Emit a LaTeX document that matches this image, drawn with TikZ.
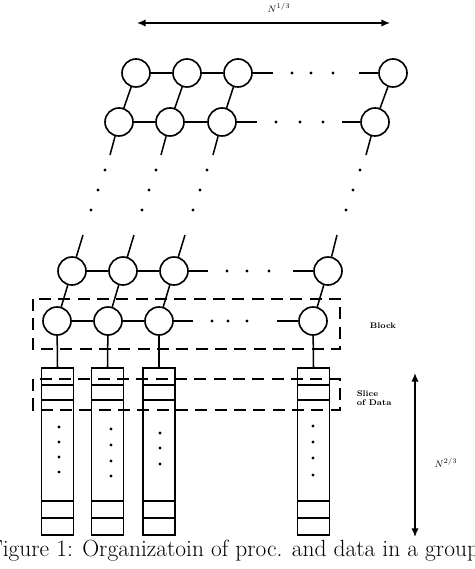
\documentclass[tikz,border=0pt]{standalone}
\usetikzlibrary{arrows.meta,positioning}
\begin{document}
\begin{tikzpicture}
[x=0.03cm, y=-0.03cm, line width=1.3pt, >={Latex[length=2.6mm,width=2.2mm]},
proc/.style={circle, draw, line width=1.4pt, inner sep=0pt, minimum size=8.4mm},
column/.style={rectangle, draw, line width=1.2pt, inner sep=0pt, minimum width=9.6mm, minimum height=50.1mm},
dashbox/.style={line width=1.4pt, dash pattern=on 3.6mm off 2.2mm},
lbl/.style={font=\fontsize{7}{7.5}\selectfont\bfseries, align=left, inner sep=0pt},
dim/.style={font=\fontsize{8}{9}\selectfont, inner sep=0pt}]

\useasboundingbox (0,0) rectangle (474,569);

% processor grid, top two rows
\foreach \i/\x in {1/136,2/187,3/238,4/393} \node[proc] (a\i) at (\x,73) {};
\foreach \i/\x in {1/119,2/170,3/222,4/375} \node[proc] (b\i) at (\x,122) {};
% processor grid, bottom two rows
\foreach \i/\x in {1/72,2/123,3/174,4/328} \node[proc] (c\i) at (\x,271) {};
\foreach \i/\x in {1/57,2/108,3/159,4/313} \node[proc] (d\i) at (\x,321) {};

% free ends of the row links
\coordinate (a3e) at (273,73);  \coordinate (a4w) at (359,73);
\coordinate (b3e) at (257,122); \coordinate (b4w) at (342,122);
\coordinate (c3e) at (208,271); \coordinate (c4w) at (293,271);
\coordinate (d3e) at (193,321); \coordinate (d4w) at (277,321);

\foreach \r in {a,b,c,d} {
  \draw (\r1) -- (\r2);
  \draw (\r2) -- (\r3);
  \draw (\r3) -- (\r3e);
  \draw (\r4w) -- (\r4);
}

% links between rows and stubs
\foreach \i/\x in {1/110,2/161,3/213,4/366} {
  \coordinate (bs\i) at (\x,155);
  \draw (a\i) -- (b\i);
  \draw (b\i) -- (bs\i);
}
\foreach \i/\x in {1/83,2/134,3/185,4/337} {
  \coordinate (cs\i) at (\x,235);
  \draw (cs\i) -- (c\i);
  \draw (c\i) -- (d\i);
}

% dots along the rows
\foreach \x in {292,311,333} \fill (\x,73) circle[radius=0.5mm];
\foreach \x in {276,300,323} \fill (\x,122) circle[radius=0.5mm];
\foreach \x in {227,247,269} \fill (\x,271) circle[radius=0.5mm];
\foreach \x in {212,228,247} \fill (\x,321) circle[radius=0.5mm];
% dots between the layers
\foreach \x in {105,156,207,360} {
  \fill (\x,170) circle[radius=0.5mm];
  \fill (\x-7,190) circle[radius=0.5mm];
  \fill (\x-14,210) circle[radius=0.5mm];
}

% data columns
\foreach \i/\x in {1/57.5,2/107.5,3/159,4/313.5} {
  \node[column] (col\i) at (\x,451.5) {};
  \draw[line width=1pt] (\x-16,385) -- (\x+16,385);
  \draw[line width=1pt] (\x-16,400) -- (\x+16,400);
  \draw[line width=1pt] (\x-16,501) -- (\x+16,501);
  \draw[line width=1pt] (\x-16,518) -- (\x+16,518);
  \draw (d\i) -- (col\i.north);
}
\foreach \y in {427,442,457,472} \fill (59,\y) circle[radius=0.5mm];
\foreach \y in {429,445,461,476} \fill (111,\y) circle[radius=0.5mm];
\foreach \y in {433,448,464} \fill (160,\y) circle[radius=0.5mm];
\foreach \y in {426,442,458,475} \fill (313,\y) circle[radius=0.5mm];

% block and slice
\draw[dashbox] (33,299) rectangle (340,349);
\draw[dashbox] (33,379) rectangle (340,410);
\node[lbl] (block) at (383,326) {Block};
\node[lbl, anchor=west] (slice) at (356,398) {Slice\\of Data};

% extents
\coordinate (wl) at (137,23); \coordinate (wr) at (390,23);
\draw[<->, line width=1.2pt] (wl) -- (wr);
\node[dim] (wlab) at (279,8) {$N^{1/3}$};
\coordinate (ht) at (415,373); \coordinate (hb) at (415,537);
\draw[<->, line width=1.2pt] (ht) -- (hb);
\node[dim] (hlab) at (446,463) {$N^{2/3}$};

\node[anchor=base west, font=\fontsize{20}{24}\selectfont, inner sep=0pt] (caption) at (-12,556) {Figure 1: Organizatoin of proc. and data in a group};
\end{tikzpicture}
\end{document}
